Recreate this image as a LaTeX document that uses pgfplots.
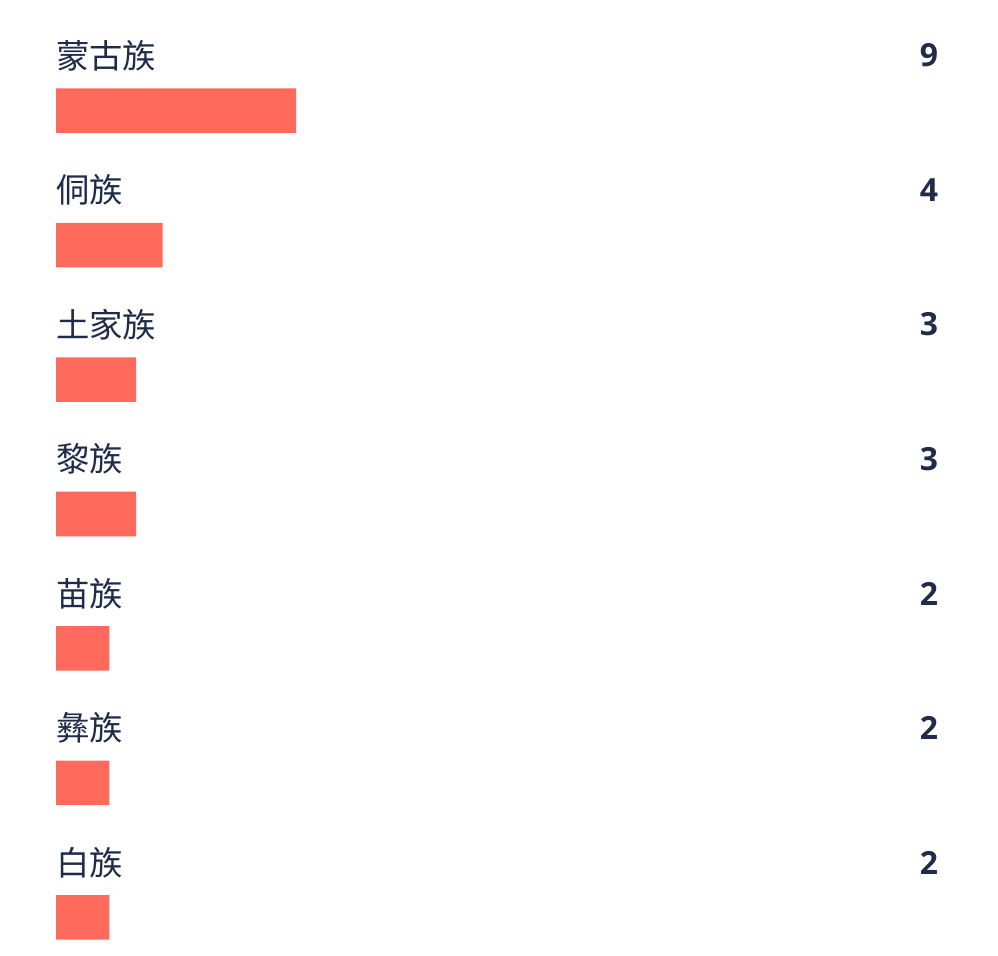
\documentclass[border=0pt]{standalone}
\usepackage{pgfplots}
\pgfplotsset{compat=1.18}
\usepackage{pgfplotstable}
\usepackage{fontspec}
\setmainfont{Lato}
\newfontfamily\numfont{Open Sans}
\newfontfamily\cjk{Noto Sans CJK SC}
\definecolor{barc}{HTML}{FF6A5C}
\definecolor{txt}{HTML}{1F2B48}
\pgfplotstableread[col sep=comma]{
idx,val,name
0,9,蒙古族
1,4,侗族
2,3,土家族
3,3,黎族
4,2,苗族
5,2,彝族
6,2,白族
}\data
\begin{document}
\begin{tikzpicture}
\begin{axis}[
  scale only axis, width=998bp, height=956bp,
  xmin=-2.1, xmax=35.325, ymin=-0.8216, ymax=6.2862, y dir=reverse,
  hide axis, clip=false,
]
\path (rel axis cs:0,0) rectangle (rel axis cs:1,1);
\addplot[xbar, bar width=44.5bp, fill=barc, draw=none] table[x=val, y=idx]{\data};
\addplot[only marks, mark=none, nodes near coords, point meta=explicit symbolic,
  nodes near coords style={anchor=west, font=\cjk\fontsize{33.5}{40}\selectfont, text=txt, inner sep=0pt}]
  table[x expr=0, y expr=\thisrow{idx}-0.409, meta=name]{\data};
\addplot[only marks, mark=none, nodes near coords, point meta=explicit symbolic,
  nodes near coords style={anchor=center, font=\numfont\fontsize{32}{40}\selectfont\bfseries, text=txt, inner sep=0pt}]
  table[x expr=32.74, y expr=\thisrow{idx}-0.409, meta=val]{\data};
\end{axis}
\end{tikzpicture}
\end{document}
